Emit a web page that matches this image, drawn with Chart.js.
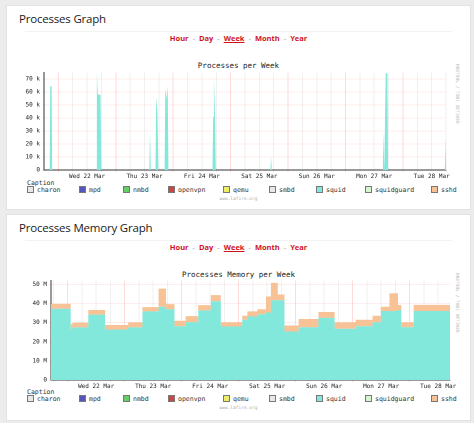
<!DOCTYPE html>
<html><head><meta charset="utf-8">
<script src="https://cdn.jsdelivr.net/npm/chart.js@4.4.0/dist/chart.umd.min.js"></script>
<style>
body{margin:0;background:#ececec;width:474px;height:423px;position:relative;overflow:hidden;font-family:"Open Sans",sans-serif}
.card{position:absolute;left:6px;width:463px;background:#fff;border:1px solid #e2e2e2}
.h{position:absolute;left:12px;font-size:11.5px;color:#222;letter-spacing:-0.2px}
.hr{position:absolute;left:18px;right:18px;height:1px;background:#f2f2f2}
.links{position:absolute;width:100%;text-align:center;font-size:7.5px;font-weight:bold;color:#d0131b}
.links span.s{color:#999;font-weight:normal;margin:0 4px}
.links u{text-decoration:underline}
.t{position:absolute;width:100%;text-align:center;font-family:"DejaVu Sans Mono",monospace;font-size:7.5px;color:#222}
.cv{position:absolute}
.cap{position:absolute;left:20px;font-family:"DejaVu Sans Mono",monospace;font-size:6.5px;color:#333}
.lg{position:absolute;font-family:"DejaVu Sans Mono",monospace;font-size:6.5px;color:#333;white-space:nowrap}
.lg i{display:inline-block;width:5px;height:5px;border:1px solid #777;margin-right:3px;vertical-align:-1px}
.www{position:absolute;width:100%;text-align:center;font-family:"DejaVu Sans Mono",monospace;font-size:4.5px;color:#aaa}
.rrd{position:absolute;font-family:"DejaVu Sans Mono",monospace;font-size:4.5px;color:#bbb;transform:rotate(90deg);transform-origin:left top;white-space:nowrap}
</style></head><body>
<div class="card" id="c1" style="top:5px;height:203px"></div>
<div class="card" id="c2" style="top:214px;height:205px"></div>
<script>
const dayLabels=['Wed 22 Mar','Thu 23 Mar','Fri 24 Mar','Sat 25 Mar','Sun 26 Mar','Mon 27 Mar','Tue 28 Mar'];
const legendNames=['charon','mpd','nmbd','openvpn','qemu','smbd','squid','squidguard','sshd'];
const legendColors=['#e8e8e8','#5555bb','#66cc66','#cc4444','#eeee66','#e8e8e8','#82e8db','#d8f5d0','#f7c295'];
const procTimes=[0,2.4,2.6,3.2,3.4,21.9,22.1,22.5,23.6,24.0,44.0,44.3,44.6,46.6,46.9,47.4,47.8,50.4,50.7,51.2,51.7,52.0,70.4,70.7,71.0,71.5,71.8,94.6,94.9,95.2,141.6,141.9,142.2,142.5,142.8,143.5,143.8,167.5,168];
const procSquid=[0,0,65000,64000,0,0,75000,58000,58000,0,0,30000,0,0,56000,45000,0,0,63000,55000,65000,0,0,41000,72000,40000,0,0,10000,0,0,30000,0,0,75000,74000,0,0,25000];
const memTimes=[0,8.3,9.0,15.7,22.8,32.5,38.5,45.3,48.4,52.0,56.7,62.0,67.3,71.5,80.5,82.7,86.9,90.5,92.6,95.5,98.3,104.3,112.6,119.4,128.3,135.4,138.9,142.5,146.1,147.5,152.7,159.3,168];
const memSquid=[37.3,37.3,26.4,27.5,34.2,26.4,27.5,35.9,38.3,37.0,28.1,30.2,36.4,41.2,28.0,31.5,33.2,34.4,35.3,41.7,41.7,25.4,27.6,32.5,26.8,28.1,30.2,36.1,36.1,36.6,27.6,36.1,36.1];
const memSshd=[2.5,2.5,2.8,2.5,2.4,2.4,2.7,2.2,9.5,2.7,2.9,3.2,2.8,3.2,2.2,2.1,2.7,2.6,8.4,9.1,3.0,3.1,4.3,3.1,3.4,3.4,3.4,2.2,9.3,2.7,2.6,3.2,3.2];

function card(id,title,ctitle){
  const c=document.getElementById(id);
  c.innerHTML=`<div class="h" style="top:5px">${title}</div><div class="hr" style="top:25px"></div>
  <div class="links" style="top:27px">Hour<span class="s">-</span>Day<span class="s">-</span><u>Week</u><span class="s">-</span>Month<span class="s">-</span>Year</div>
  <div class="t" style="top:55px">${ctitle}</div>
  <div class="cap" style="top:173px">Caption</div>
  <div class="www" style="top:190px">www.lafire.org</div>
  <div class="rrd" style="left:453px;top:58px">RRDTOOL / TOBI OETIKER</div>`;
  const xs=[20,72,116,161,216,262,309,358,424];
  legendNames.forEach((n,i)=>{const d=document.createElement('div');d.className='lg';d.style.left=xs[i]+'px';d.style.top='180px';d.innerHTML=`<i style="background:${legendColors[i]}"></i>${n}`;c.appendChild(d);});
  return c;
}
function xScale(startHour,tickFont){
  return {type:'linear',min:0,max:168,
    afterBuildTicks:(s)=>{const t=[];for(let h=0;h<=168;h++){if((startHour+h)%6===0)t.push({value:h});}s.ticks=t;},
    afterFit:(s)=>{s.height=11},
    ticks:{autoSkip:false,maxRotation:0,padding:1,font:tickFont,color:'#222',
      callback:(v)=>{const c=startHour+v;if(c%24===12){return dayLabels[Math.floor((c-12)/24)-1]||'';}return '';}},
    grid:{drawTicks:true,tickLength:2,color:(ctx)=>{const v=ctx.tick?ctx.tick.value:0;return ((startHour+v)%24===0)?'rgba(255,120,120,0.45)':'rgba(200,200,200,0.45)';},lineWidth:0.6},
    border:{color:'#333',width:1}};
}
function mkCanvas(c,l,t,w,h){const d=document.createElement('div');d.className='cv';d.style.cssText=`left:${l}px;top:${t}px;width:${w}px;height:${h}px`;const cv=document.createElement('canvas');cv.width=w;cv.height=h;d.appendChild(cv);c.appendChild(d);return cv;}
const tf={family:'DejaVu Sans Mono',size:6};

const c1=card('c1','Processes Graph','Processes per Week');
new Chart(mkCanvas(c1,8,61,440,114),{type:'line',
  data:{datasets:[{label:'squid',data:procTimes.map((t,i)=>({x:t,y:procSquid[i]})),borderWidth:0,pointRadius:0,fill:'origin',backgroundColor:'#82e8db',tension:0}]},
  options:{responsive:false,devicePixelRatio:2,animation:false,layout:{padding:{top:3,right:9}},
    plugins:{legend:{display:false},tooltip:{enabled:false}},
    scales:{x:xScale(18,tf),
      y:{min:0,max:75000,afterFit:(s)=>{s.width=29},afterBuildTicks:(s)=>{s.ticks=[0,10000,20000,30000,40000,50000,60000,70000].map(v=>({value:v}))},
        ticks:{font:tf,color:'#222',padding:2,callback:(v)=>v===0?'0':(v/1000)+' k'},
        grid:{color:'rgba(255,150,150,0.35)',lineWidth:0.6,tickLength:2},border:{color:'#333'}}}}});

const c2=card('c2','Processes Memory Graph','Processes Memory per Week');
new Chart(mkCanvas(c2,14,60,438,116),{type:'line',
  data:{datasets:[
    {label:'squid',data:memTimes.map((t,i)=>({x:t,y:memSquid[i]})),stepped:'after',borderWidth:0,pointRadius:0,fill:'origin',backgroundColor:'#82e8db'},
    {label:'sshd',data:memTimes.map((t,i)=>({x:t,y:memSshd[i]})),stepped:'after',borderWidth:0,pointRadius:0,fill:'-1',backgroundColor:'#f7c295'}]},
  options:{responsive:false,devicePixelRatio:2,animation:false,layout:{padding:{top:3,right:9}},
    plugins:{legend:{display:false},tooltip:{enabled:false}},
    scales:{x:xScale(17,tf),
      y:{stacked:true,min:0,max:52,afterFit:(s)=>{s.width=30},afterBuildTicks:(s)=>{s.ticks=[0,10,20,30,40,50].map(v=>({value:v}))},
        ticks:{font:tf,color:'#222',padding:2,callback:(v)=>v===0?'0':v+' M'},
        grid:{color:'rgba(255,150,150,0.35)',lineWidth:0.6,tickLength:2},border:{color:'#333'}}}}});
</script>
</body></html>
